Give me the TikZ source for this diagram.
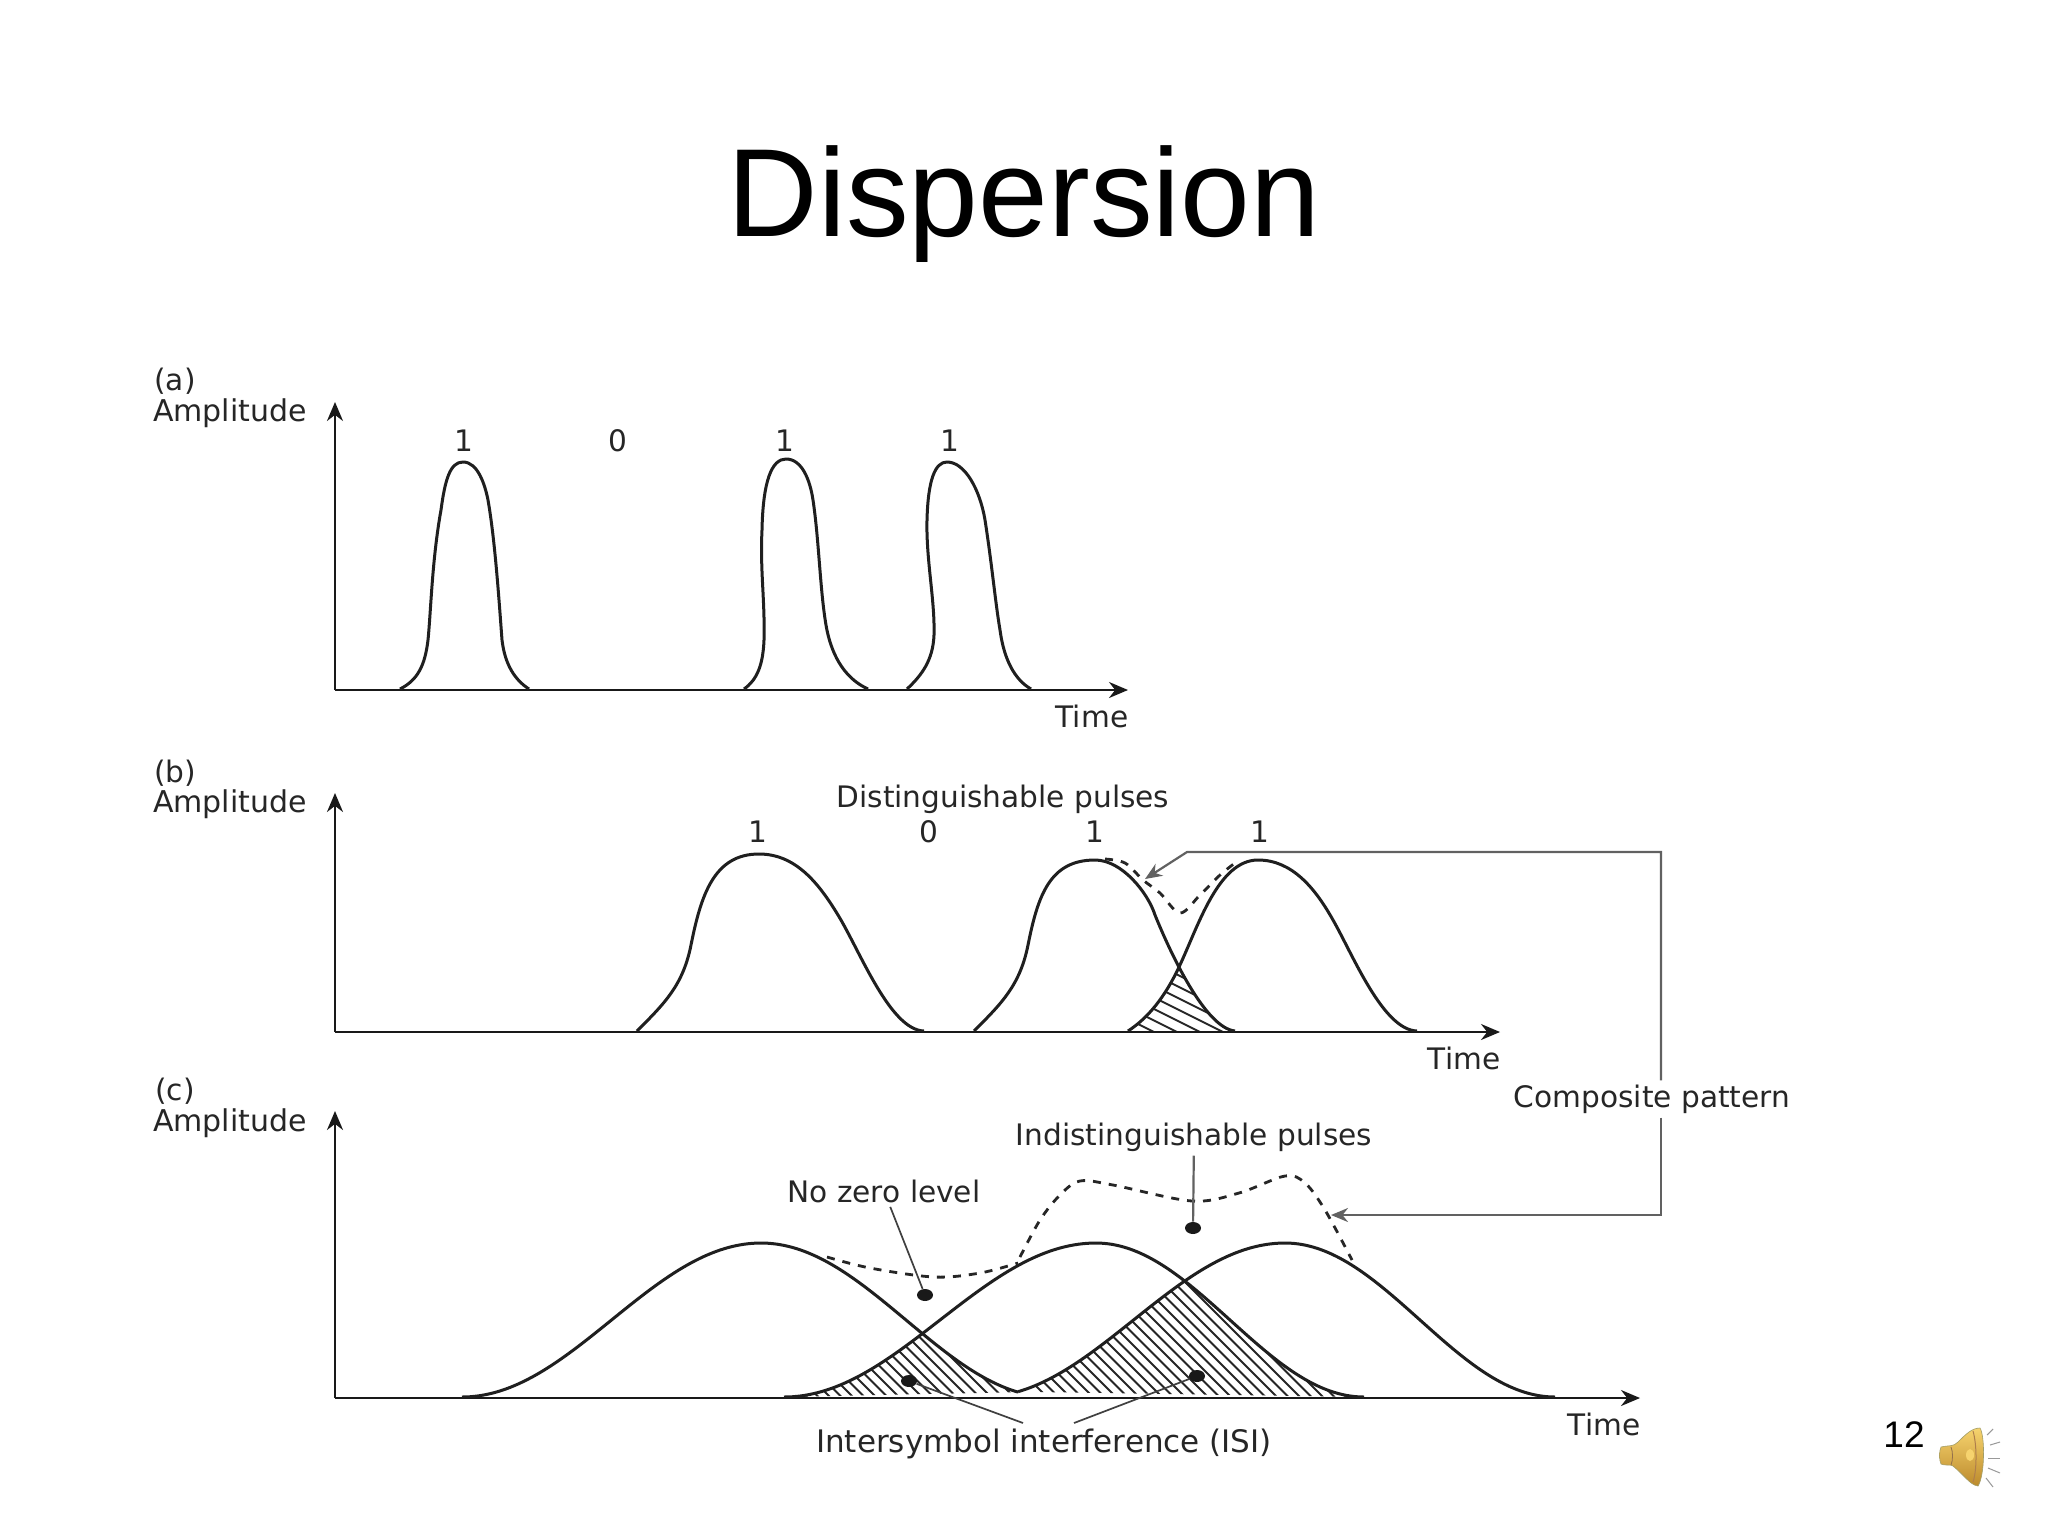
\documentclass[tikz,border=0pt]{standalone}
\usepackage{fontspec}
\setmainfont{DejaVu Sans}
\newfontfamily\arialfont{Liberation Sans}
\usetikzlibrary{arrows.meta,shapes.geometric}
\definecolor{goldhi}{HTML}{F6D36E}
\definecolor{goldlo}{HTML}{BC8A2C}
\tikzset{
  lab/.style={font=\fontsize{14.8}{16}\selectfont, text=black!85, inner sep=2pt, yshift=-1pt},
  amplab/.style={lab, font=\fontsize{15}{16}\selectfont},
  widelab/.style={lab, font=\fontsize{15.5}{17}\selectfont},
  axisline/.style={line width=1.2pt, black!90, -{Stealth[length=9.5pt,width=8pt]}},
  pulse/.style={line width=1.5pt, black!88, line join=round},
  composite/.style={line width=1.4pt, black!85, dash pattern=on 4pt off 4pt},
  leader/.style={line width=0.85pt, black!75},
  greyleader/.style={line width=1.1pt, black!62},
  hatchline/.style={line width=0.95pt, black!85},
  bead/.style={ellipse, fill=black!90, inner sep=0pt, minimum width=8pt, minimum height=6pt},
  ray/.style={line width=0.5pt, black!40},
  sm/.style={smooth,tension=0.55},
  curve/.style={samples=70,smooth},
}
% raised-cosine pulses of panel c, as a fraction of their height
\pgfmathdeclarefunction{cA}{1}{\pgfmathparse{#1<761 ? (1+cos(180*((#1-761)/299)))/2 : (#1>1051 ? 0 : (1+cos(180*((#1-761)/290)))/2)}}
\pgfmathdeclarefunction{cB}{1}{\pgfmathparse{#1<784 ? 0 : (#1<1096 ? (1+cos(180*((#1-1096)/312)))/2 : (#1>1364 ? 0 : (1+cos(180*((#1-1096)/268)))/2))}}
\pgfmathdeclarefunction{cC}{1}{\pgfmathparse{#1<982 ? 0 : (#1<1285 ? (1+cos(180*((#1-1285)/303)))/2 : (1+cos(180*((#1-1285)/270)))/2)}}
\begin{document}
\begin{tikzpicture}[x=0.5pt,y=-0.5pt]
\useasboundingbox (0,0) rectangle (2048,1536);
\fill[white] (0,0) rectangle (2048,1536);

\node (title) at (1024,204) {\arialfont\fontsize{62.7}{70}\selectfont Dispersion};
\node (pageno) at (1904,1435) {\arialfont\fontsize{18.5}{20}\selectfont 12};

% ---------- panel a
\node[lab] (alab) at (175,379) {(a)};
\node[amplab] (aamp) at (230,411) {Amplitude};
\coordinate (ao) at (335,690);
\coordinate (ay) at (335,402);
\coordinate (ax) at (1128,690);
\draw[axisline] (ao) -- (ay);
\draw[axisline] (ao) -- (ax);
\node[lab] (aone) at (464,439) {1};
\node[lab] (azero) at (618,439) {0};
\node[lab] (atwo) at (785,439) {1};
\node[lab] (athree) at (950,439) {1};
\node[lab] (atime) at (1092,714) {Time};
\draw[pulse] (400,689) .. controls (418,680) and (425,665) .. (428,640)
  .. controls (431,610) and (432,560) .. (441,510)
  .. controls (445,480) and (450,462) .. (463,462)
  .. controls (478,462) and (485,485) .. (488,500)
  .. controls (495,540) and (499,600) .. (502,640)
  .. controls (505,665) and (515,680) .. (529,689);
\draw[pulse] (744,689) .. controls (757,680) and (763,665) .. (764,640)
  .. controls (765,600) and (760,570) .. (762,530)
  .. controls (763,480) and (772,459) .. (786,459)
  .. controls (802,459) and (810,480) .. (813,500)
  .. controls (819,540) and (820,590) .. (826,625)
  .. controls (832,660) and (848,680) .. (868,689);
\draw[pulse] (907,689) .. controls (922,675) and (933,660) .. (934,635)
  .. controls (935,600) and (926,560) .. (927,520)
  .. controls (928,480) and (935,462) .. (947,462)
  .. controls (965,462) and (980,490) .. (985,520)
  .. controls (992,565) and (995,600) .. (1000,630)
  .. controls (1004,660) and (1015,680) .. (1031,689);

% ---------- panel b
\node[lab] (blab) at (175,771) {(b)};
\node[amplab] (bamp) at (230,802) {Amplitude};
\coordinate (bo) at (335,1032);
\coordinate (by) at (335,793);
\coordinate (bx) at (1500,1032);
\node[lab] (bone) at (758,830) {1};
\node[lab] (bzero) at (929,830) {0};
\node[lab] (btwo) at (1095,830) {1};
\node[lab] (bthree) at (1260,830) {1};
\node[lab] (bdist) at (1003,797) {Distinguishable pulses};
\node[lab] (btime) at (1464,1056) {Time};
\begin{scope}
\clip (974,1031) .. controls (1002,1003) and (1020,985) .. (1028,945)
  .. controls (1038,895) and (1050,860) .. (1095,860)
  .. controls (1122,860) and (1148,893) .. (1155,915)
  .. controls (1170,952) and (1205,1028) .. (1235,1031) -- cycle;
\clip (1128,1031) .. controls (1148,1018) and (1165,997) .. (1179,967)
  .. controls (1198,927) and (1218,860) .. (1258,860)
  .. controls (1292,860) and (1315,888) .. (1333,920)
  .. controls (1353,955) and (1383,1030) .. (1417,1031) -- cycle;
\foreach \k in {0,...,12}
  \draw[hatchline] (1100,{890+11.5*\k}) -- (1260,{970+11.5*\k});
\end{scope}
\draw[axisline] (bo) -- (by);
\draw[axisline] (bo) -- (bx);
\draw[pulse] (637,1031) .. controls (665,1003) and (683,985) .. (691,945)
  .. controls (701,895) and (714,854) .. (759,854)
  .. controls (795,854) and (818,882) .. (838,915)
  .. controls (860,951) and (890,1030) .. (924,1031);
\draw[pulse] (974,1031) .. controls (1002,1003) and (1020,985) .. (1028,945)
  .. controls (1038,895) and (1050,860) .. (1095,860)
  .. controls (1122,860) and (1148,893) .. (1155,915)
  .. controls (1170,952) and (1205,1028) .. (1235,1031);
\draw[pulse] (1128,1031) .. controls (1148,1018) and (1165,997) .. (1179,967)
  .. controls (1198,927) and (1218,860) .. (1258,860)
  .. controls (1292,860) and (1315,888) .. (1333,920)
  .. controls (1353,955) and (1383,1030) .. (1417,1031);
\draw[composite] plot[sm] coordinates {(1105,859)(1125,863)(1143,880)(1160,893)(1180,913)(1200,895)(1220,875)(1235,863)};

% ---------- panel c
\node[lab] (clab) at (175,1089) {(c)};
\node[amplab] (camp) at (230,1121) {Amplitude};
\coordinate (co) at (335,1398);
\coordinate (cy) at (335,1111);
\coordinate (cx) at (1640,1398);
\node[lab] (ctime) at (1604,1422) {Time};
\begin{scope}
\clip plot[curve,domain=784:1018] (\x,{1397-154*min(cA(\x),cB(\x))}) -- cycle;
\foreach \k in {0,...,60}
  \draw[hatchline] ({640+11.5*\k},1230) -- ({820+11.5*\k},1410);
\end{scope}
\begin{scope}
\clip plot[curve,domain=1018:1364] (\x,{1397-154*min(cC(\x),cB(\x))}) -- cycle;
\foreach \k in {0,...,70}
  \draw[hatchline] ({880+11.5*\k},1230) -- ({1060+11.5*\k},1410);
\end{scope}
\draw[axisline] (co) -- (cy);
\draw[axisline] (co) -- (cx);
\draw[pulse] plot[curve,domain=462:1018] (\x,{1397-154*cA(\x)});
\draw[pulse] plot[curve,domain=784:1364] (\x,{1397-154*cB(\x)});
\draw[pulse] plot[curve,domain=1018:1555] (\x,{1397-154*cC(\x)});
\draw[composite] plot[sm] coordinates {(827,1257)(870,1268)(934,1277)(980,1273)(1018,1263)};
\draw[composite] plot[sm] coordinates {(1020,1257)(1040,1220)(1060,1195)(1080,1181)(1113,1185)(1192,1201)(1239,1193)(1285,1176)(1305,1183)(1325,1210)(1352,1260)};

\node[lab] (nozero) at (884,1189) {No zero level};
\node[lab] (indist) at (1194,1135) {Indistinguishable pulses};
\node[widelab] (isi) at (1044,1442) {Intersymbol interference (ISI)};
\node[lab] (comp) at (1652,1097) {Composite pattern};
\node[bead] (dotnz) at (925,1295) {};
\node[bead] (dotin) at (1193,1228) {};
\node[bead] (dotl) at (909,1381) {};
\node[bead] (dotr) at (1197,1376) {};
\coordinate (isiL) at (1023,1423);
\coordinate (isiR) at (1074,1423);
\draw[leader] (nozero) -- (dotnz);
\draw[greyleader] (indist) -- (dotin);
\draw[leader] (dotl) -- (isiL);
\draw[leader] (dotr) -- (isiR);

% composite pattern leaders
\coordinate (topcorner) at (1661,852);
\coordinate (bend) at (1187,852);
\coordinate (tipb) at (1145,879);
\coordinate (lowcorner) at (1661,1215);
\coordinate (tipc) at (1331,1215);
\draw[greyleader,-{Stealth[length=8.5pt,width=7pt]}] (comp.north -| topcorner) -- (topcorner) -- (bend) -- (tipb);
\draw[greyleader,-{Stealth[length=8.5pt,width=7pt]}] (comp.south -| lowcorner) -- (lowcorner) -- (tipc);

% ---------- loudspeaker icon
\shade[top color=goldhi, bottom color=goldlo, draw=olive!60!black!60, line width=0.3pt]
  (1941,1447) .. controls (1950,1445) and (1953,1447) .. (1958,1442)
  .. controls (1966,1434) and (1972,1428) .. (1980,1428)
  .. controls (1985,1436) and (1985,1475) .. (1978,1486)
  .. controls (1970,1485) and (1964,1475) .. (1953,1466)
  .. controls (1950,1464) and (1945,1466) .. (1941,1464)
  .. controls (1939,1460) and (1939,1451) .. (1941,1447) -- cycle;
\draw[orange!40!black!70,line width=0.4pt] (1951,1447) .. controls (1953,1452) and (1953,1460) .. (1951,1465);
\draw[orange!55!black!70,line width=0.5pt] (1973,1431) .. controls (1977,1445) and (1977,1470) .. (1973,1482);
\fill[goldhi] (1970,1455) ellipse (4 and 6);
\draw[ray] (1987,1435) -- (1993,1429);
\draw[ray] (1990,1445) -- (2000,1442);
\draw[ray] (1988,1458) -- (2000,1458);
\draw[ray] (1988,1468) -- (2000,1473);
\draw[ray] (1986,1478) -- (1993,1487);
\end{tikzpicture}
\end{document}
